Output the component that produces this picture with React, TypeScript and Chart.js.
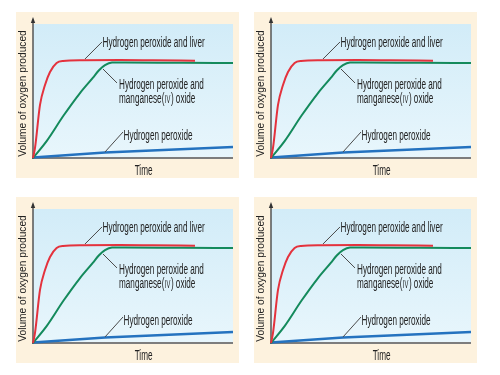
import React, { useEffect, useRef } from "react";
import { Chart, registerables } from "chart.js";

Chart.register(...registerables);

// Data (x = time, arbitrary units 0..100; y = volume, arbitrary units 0..100)
const liverX = [0, 1, 3.5, 6, 8.5, 11.8, 15, 25, 43.5, 60, 81];
const liverY = [0, 7.5, 39.6, 54.5, 64.2, 70.9, 72.4, 72.9, 73.1, 72.9, 72.6];
const mnX = [0, 7, 15.2, 23.5, 30, 33, 36, 39.5, 46, 75, 100];
const mnY = [0, 13, 31.5, 48.5, 60, 65.5, 69.3, 71.2, 71.3, 71.0, 70.9];
const plainX = [0, 36, 100];
const plainY = [0.4, 4.1, 8.2];

const seriesNames = [
  "Hydrogen peroxide and liver",
  "Hydrogen peroxide and manganese(IV) oxide",
  "Hydrogen peroxide",
];
const xTitle = "Time";
const yTitle = "Volume of oxygen produced";

const COLORS = {
  cream: "#fdf2de",
  bgTop: "#d2ecf8",
  bgBottom: "#e8f6fc",
  axis: "#7d7d7d",
  text: "#222222",
  leader: "#4a4a4a",
  red: "#e4323d",
  green: "#148a5c",
  blue: "#2472bf",
};

const FONT = "'Liberation Sans', Arial, sans-serif";
const FS = 14;
const SX = 0.583;

function pts(xs: number[], ys: number[]) {
  return xs.map((x, i) => ({ x, y: ys[i] }));
}

function drawScaled(ctx: CanvasRenderingContext2D, text: string, x: number, y: number, size: number) {
  ctx.save();
  ctx.translate(x, y);
  ctx.scale(SX, 1);
  ctx.font = `${size}px ${FONT}`;
  ctx.fillText(text, 0, 0);
  const w = ctx.measureText(text).width * SX;
  ctx.restore();
  return w;
}

const annotPlugin = {
  id: "annot",
  beforeDraw(chart: any) {
    const { ctx, chartArea: a, width, height } = chart;
    ctx.save();
    ctx.fillStyle = COLORS.cream;
    ctx.fillRect(0, 0, width, height);
    const g = ctx.createLinearGradient(0, a.top, 0, a.bottom);
    g.addColorStop(0, COLORS.bgTop);
    g.addColorStop(1, COLORS.bgBottom);
    ctx.fillStyle = g;
    ctx.fillRect(a.left, a.top, a.right - a.left, a.bottom - a.top);
    ctx.restore();
  },
  beforeDatasetsDraw(chart: any) {
    const { ctx, chartArea: a } = chart;
    ctx.save();
    ctx.strokeStyle = COLORS.axis;
    ctx.lineWidth = 2;
    ctx.beginPath();
    ctx.moveTo(a.left - 1, a.bottom);
    ctx.lineTo(a.right, a.bottom);
    ctx.stroke();
    ctx.strokeStyle = "#555";
    ctx.lineWidth = 1.5;
    ctx.beginPath();
    ctx.moveTo(a.left, a.bottom + 1);
    ctx.lineTo(a.left, a.top - 4);
    ctx.stroke();
    ctx.fillStyle = "#333";
    ctx.beginPath();
    ctx.moveTo(a.left, a.top - 7);
    ctx.lineTo(a.left - 2.2, a.top - 1);
    ctx.lineTo(a.left + 2.2, a.top - 1);
    ctx.closePath();
    ctx.fill();
    ctx.restore();
  },
  afterDatasetsDraw(chart: any) {
    const { ctx, chartArea: a } = chart;
    const xs = chart.scales.x;
    const ys = chart.scales.y;
    const px = (v: number) => xs.getPixelForValue(v);
    const py = (v: number) => ys.getPixelForValue(v);
    ctx.save();
    ctx.strokeStyle = COLORS.leader;
    ctx.lineWidth = 1;
    const leaders = [
      [26, 73.9, 34.5, 86.6],
      [35, 66.4, 42, 56.0],
      [36, 4.5, 45, 19.4],
    ];
    leaders.forEach(([x1, y1, x2, y2]) => {
      ctx.beginPath();
      ctx.moveTo(px(x1), py(y1));
      ctx.lineTo(px(x2), py(y2));
      ctx.stroke();
    });
    ctx.fillStyle = COLORS.text;
    ctx.textBaseline = "alphabetic";
    ctx.textAlign = "left";
    drawScaled(ctx, seriesNames[0], px(34.8), py(82.8), FS);
    drawScaled(ctx, "Hydrogen peroxide and", px(43), py(51.5), FS);
    let x = px(43);
    const yb = py(41.0);
    x += drawScaled(ctx, "manganese(", x, yb, FS);
    x += drawScaled(ctx, "IV", x + 0.5, yb, 10) + 1;
    drawScaled(ctx, ") oxide", x, yb, FS);
    drawScaled(ctx, seriesNames[2], px(45.3), py(13.4), FS);
    ctx.textAlign = "center";
    drawScaled(ctx, xTitle, px(55.3), a.bottom + 17, FS);
    ctx.save();
    ctx.translate(a.left - 10, (a.top + a.bottom) / 2 + 2.5);
    ctx.rotate(-Math.PI / 2);
    ctx.scale(0.785, 0.88);
    ctx.font = `13px ${FONT}`;
    ctx.textAlign = "center";
    ctx.textBaseline = "middle";
    ctx.fillText(yTitle, 0, 0);
    ctx.restore();
    ctx.restore();
  },
};

function Panel({ left, top }: { left: number; top: number }) {
  const ref = useRef<HTMLCanvasElement>(null);
  useEffect(() => {
    const chart = new Chart(ref.current!, {
      type: "line",
      data: {
        datasets: [
          {
            label: seriesNames[0],
            data: pts(liverX, liverY),
            borderColor: COLORS.red,
            borderWidth: 2,
            pointRadius: 0,
            cubicInterpolationMode: "monotone",
            clip: 5,
          },
          {
            label: seriesNames[1],
            data: pts(mnX, mnY),
            borderColor: COLORS.green,
            borderWidth: 2,
            pointRadius: 0,
            cubicInterpolationMode: "monotone",
            clip: 5,
          },
          {
            label: seriesNames[2],
            data: pts(plainX, plainY),
            borderColor: COLORS.blue,
            borderWidth: 2.5,
            pointRadius: 0,
            clip: 5,
          },
        ],
      } as any,
      options: {
        animation: false,
        responsive: false,
        devicePixelRatio: 1,
        layout: { padding: { left: 17, top: 12, right: 6, bottom: 20 } },
        plugins: { legend: { display: false }, tooltip: { enabled: false } },
        events: [],
        scales: {
          x: { type: "linear", min: 0, max: 100, display: false },
          y: { type: "linear", min: 0, max: 100, display: false },
        },
      },
      plugins: [annotPlugin],
    });
    return () => chart.destroy();
  }, []);
  return (
    <canvas
      ref={ref}
      width={223}
      height={166}
      style={{ position: "absolute", left, top, width: 223, height: 166 }}
    />
  );
}

export default function App() {
  return (
    <div
      style={{
        position: "fixed",
        left: 0,
        top: 0,
        width: 500,
        height: 375,
        background: "#ffffff",
        overflow: "hidden",
      }}
    >
      <Panel left={16} top={12} />
      <Panel left={254} top={12} />
      <Panel left={16} top={197} />
      <Panel left={254} top={197} />
    </div>
  );
}
